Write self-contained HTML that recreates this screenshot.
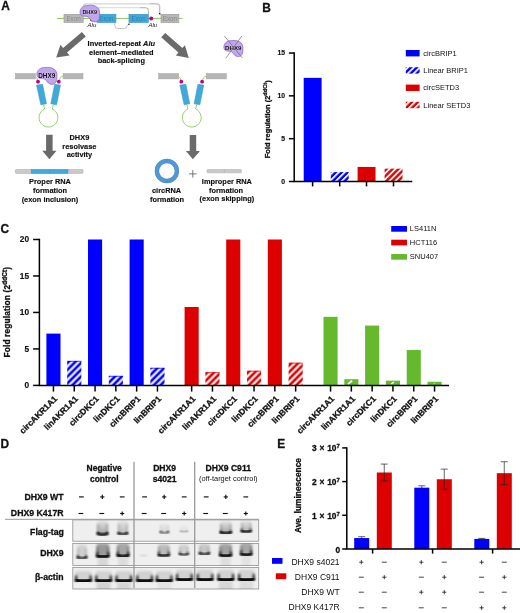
<!DOCTYPE html>
<html lang="en"><head><meta charset="utf-8"><title>Figure</title>
<style>html,body{margin:0;padding:0;background:#fff;}body{width:520px;height:613px;overflow:hidden;}svg{display:block;}text{font-family:"Liberation Sans", "DejaVu Sans", sans-serif;fill:#111;}.b{stroke:#111;stroke-width:0.3px;}.a{stroke:#111;stroke-width:0.15px;}</style>
</head><body>
<svg width="520" height="613" viewBox="0 0 520 613">
<defs>
<pattern id="hb" width="4.2" height="4.2" patternUnits="userSpaceOnUse" patternTransform="rotate(-45)"><rect width="4.2" height="4.2" fill="#fff"/><rect y="1.03" width="4.2" height="2.4" fill="#0000ff"/></pattern>
<pattern id="hbc" width="4.8" height="4.8" patternUnits="userSpaceOnUse" patternTransform="rotate(-45)"><rect width="4.8" height="4.8" fill="#fff"/><rect y="0.6" width="4.8" height="2.65" fill="#0000ff"/></pattern>
<pattern id="hr" width="4.2" height="4.2" patternUnits="userSpaceOnUse" patternTransform="rotate(-45)"><rect width="4.2" height="4.2" fill="#fff"/><rect y="1.03" width="4.2" height="2.4" fill="#dc0000"/></pattern>
<pattern id="hrc" width="4.8" height="4.8" patternUnits="userSpaceOnUse" patternTransform="rotate(-45)"><rect width="4.8" height="4.8" fill="#fff"/><rect y="0.6" width="4.8" height="2.65" fill="#dc0000"/></pattern>
<pattern id="hg" width="4.2" height="4.2" patternUnits="userSpaceOnUse" patternTransform="rotate(-45)"><rect width="4.2" height="4.2" fill="#fff"/><rect y="1.03" width="4.2" height="2.4" fill="#66b92d"/></pattern>
<pattern id="hgc" width="4.8" height="4.8" patternUnits="userSpaceOnUse" patternTransform="rotate(-45)"><rect width="4.8" height="4.8" fill="#fff"/><rect y="0.6" width="4.8" height="2.65" fill="#66b92d"/></pattern>
<filter id="bl1" x="-50%" y="-100%" width="200%" height="300%"><feGaussianBlur stdDeviation="0.9"/></filter>
<filter id="bl2" x="-50%" y="-100%" width="200%" height="300%"><feGaussianBlur stdDeviation="1.6"/></filter>
<linearGradient id="sg" x1="0" y1="0" x2="0" y2="1"><stop offset="0" stop-color="#000" stop-opacity="0.15"/><stop offset="1" stop-color="#000" stop-opacity="1"/></linearGradient>
<clipPath id="cp1"><rect x="73" y="520" width="186" height="21"/></clipPath>
<clipPath id="cp2"><rect x="73" y="543.5" width="186" height="22"/></clipPath>
<clipPath id="cp3"><rect x="73" y="567.5" width="186" height="21.5"/></clipPath>
</defs>
<rect width="520" height="613" fill="#fff"/>
<text x="1.3" y="10.2" font-size="11.9" font-weight="bold" text-anchor="start" class="b">A</text>
<text x="262.2" y="11.6" font-size="11.9" font-weight="bold" text-anchor="start" class="b">B</text>
<text x="0.6" y="232.8" font-size="11.9" font-weight="bold" text-anchor="start" class="b">C</text>
<text x="0.6" y="448" font-size="11.9" font-weight="bold" text-anchor="start" class="b">D</text>
<text x="277.2" y="448" font-size="11.9" font-weight="bold" text-anchor="start" class="b">E</text>
<g id="panelA">
<line x1="57" y1="18.4" x2="182.6" y2="18.4" stroke="#7dc242" stroke-width="0.9"/>
<path d="M83.2 14 V6.4 Q83.2 3.8 86 3.8 H156.8 Q159.7 3.8 159.7 6.8 V13" fill="none" stroke="#d6d6d6" stroke-width="1.2"/>
<path d="M150 3.8 H156.8 Q159.7 3.8 159.7 6.8 V13" fill="none" stroke="#b0b0b0" stroke-width="0.7"/>
<path d="M97 7.7 H145.6 Q148.4 7.7 148.4 10.6 V14" fill="none" stroke="#c6c6c6" stroke-width="0.7"/>
<path d="M140 7.7 H145.6 Q148.4 7.7 148.4 10.6 V14" fill="none" stroke="#a8a8a8" stroke-width="0.7"/>
<path d="M114.8 22.6 V25.6 Q114.8 28.5 117.8 28.5 H124.2 Q127.2 28.5 127.2 25.6 V24.8" fill="none" stroke="#a8a8a8" stroke-width="0.7"/>
<rect x="64" y="14.4" width="19.2" height="8" fill="#b7b7b7" stroke="#9c9c9c" stroke-width="0.7"/>
<text x="73.6" y="20.599999999999998" font-size="6.3" text-anchor="middle" style="fill:#8a8a8a">Exon</text>
<rect x="97" y="14.4" width="18.9" height="8" fill="#41a9d9" stroke="#3596c6" stroke-width="0.7"/>
<text x="106.45" y="20.599999999999998" font-size="6.3" text-anchor="middle" style="fill:#2f83ad">Exon</text>
<rect x="129" y="14.4" width="19.3" height="8" fill="#41a9d9" stroke="#3596c6" stroke-width="0.7"/>
<text x="138.65" y="20.599999999999998" font-size="6.3" text-anchor="middle" style="fill:#2f83ad">Exon</text>
<rect x="161" y="14.4" width="17.8" height="8" fill="#b7b7b7" stroke="#9c9c9c" stroke-width="0.7"/>
<text x="169.9" y="20.599999999999998" font-size="6.3" text-anchor="middle" style="fill:#8a8a8a">Exon</text>
<circle cx="151.2" cy="18.5" r="2" fill="#c2007b"/>
<circle cx="92" cy="19.6" r="2" fill="#c2007b"/>
<rect x="128.2" y="23.6" width="1.4" height="1.4" fill="#222"/>
<rect x="159" y="13" width="1.4" height="1.4" fill="#222"/>
<g transform="translate(89.9 13.5) scale(0.98)">
<path d="M-10 -1.2 C-10.2 -5.6 -6.2 -8.6 -1.6 -8.3 C1.4 -8.6 4.4 -8.4 6.6 -7 C9.4 -5.4 10.2 -2.6 10 0.6 C10 4.6 9.4 8.4 5.2 8.5 C1.8 8.6 0.6 6.2 -0.8 4.4 C-2 2.8 -3.6 3 -5.6 2.8 C-8.4 2.6 -10 1.2 -10 -1.2 Z" fill="#c0a5ea" stroke="#8c6cc8" stroke-width="0.8"/>
<text x="-0.2" y="0.3" font-size="5.6" font-weight="bold" text-anchor="middle" style="fill:#0c0c0c;stroke:#dccdf4;stroke-width:0.55;paint-order:stroke">DHX9</text>
</g>
<text x="87.6" y="27.3" font-size="6" font-weight="normal" text-anchor="start" font-style="italic">Alu</text>
<text x="148.4" y="27.3" font-size="6" font-weight="normal" text-anchor="start" font-style="italic">Alu</text>
<polygon points="81.9,32.0 63.1,47.9 60.5,44.8 56.2,57.6 69.6,55.5 67.0,52.4 85.8,36.5" fill="#6a6a6a"/>
<polygon points="161.2,37.3 178.4,52.6 175.8,55.5 188.8,57.9 184.9,45.3 182.4,48.1 165.2,32.9" fill="#6a6a6a"/>
<polygon points="46.1,134.7 46.1,150.7 42.3,150.7 49.4,159.3 56.5,150.7 52.6,150.7 52.6,134.7" fill="#6a6a6a"/>
<polygon points="189.7,134.9 189.7,150.9 185.9,150.9 192.9,159.3 199.9,150.9 196.2,150.9 196.2,134.9" fill="#6a6a6a"/>
<text class="a" font-size="7.4" font-weight="bold" text-anchor="middle"><tspan x="121.3" y="45.5">Inverted-repeat <tspan font-style="italic">Alu</tspan></tspan><tspan x="121.3" y="54.5">element–mediated</tspan><tspan x="121.3" y="63.3">back-splicing</tspan></text>
<g transform="translate(233.4 48.5) scale(0.95)">
<path d="M-10 -1.2 C-10.2 -5.6 -6.2 -8.6 -1.6 -8.3 C1.4 -8.6 4.4 -8.4 6.6 -7 C9.4 -5.4 10.2 -2.6 10 0.6 C10 4.6 9.4 8.4 5.2 8.5 C1.8 8.6 0.6 6.2 -0.8 4.4 C-2 2.8 -3.6 3 -5.6 2.8 C-8.4 2.6 -10 1.2 -10 -1.2 Z" fill="#c0a5ea" stroke="#8c6cc8" stroke-width="0.8"/>
<text x="-0.2" y="1.4" font-size="6.5" font-weight="bold" text-anchor="middle" style="fill:#0c0c0c;stroke:#dccdf4;stroke-width:0.55;paint-order:stroke">DHX9</text>
</g>
<line x1="224.4" y1="36" x2="242.4" y2="58" stroke="#6e6e6e" stroke-width="0.7"/>
<line x1="241.8" y1="36" x2="225.8" y2="58.3" stroke="#6e6e6e" stroke-width="0.7"/>
<rect x="15.4" y="73.6" width="19.9" height="5.3" fill="#b5b5b5" stroke="#a2a2a2" stroke-width="0.5"/>
<rect x="63.1" y="73.6" width="19.9" height="5.3" fill="#b5b5b5" stroke="#a2a2a2" stroke-width="0.5"/>
<path d="M35.4 76.6 Q37.4 77.4 38.0 81.7" fill="none" stroke="#7dc242" stroke-width="0.8"/>
<path d="M63.1 76.2 Q59.8 76.6 58.8 81.7" fill="none" stroke="#7dc242" stroke-width="0.8"/>
<polygon points="36.5,85.1 42.6,84.3 46.5,103.8 40.8,104.8" fill="#41a9d9" stroke="#3596c6" stroke-width="0.5"/>
<polygon points="60.5,85.1 54.6,84.3 50.8,103.8 56.6,104.8" fill="#41a9d9" stroke="#3596c6" stroke-width="0.5"/>
<path d="M43.5 104.4 L44.6 109 A9.4 9.4 0 1 0 52.3 109 L53.5 104.4" fill="none" stroke="#7dc242" stroke-width="0.8"/>
<circle cx="38.0" cy="81.7" r="1.9" fill="#c2007b"/>
<circle cx="58.8" cy="81.7" r="1.9" fill="#c2007b"/>
<g transform="translate(46.9 75.8) scale(1.0)">
<path d="M-10 -1.2 C-10.2 -5.6 -6.2 -8.6 -1.6 -8.3 C1.4 -8.6 4.4 -8.4 6.6 -7 C9.4 -5.4 10.2 -2.6 10 0.6 C10 4.6 9.4 8.4 5.2 8.5 C1.8 8.6 0.6 6.2 -0.8 4.4 C-2 2.8 -3.6 3 -5.6 2.8 C-8.4 2.6 -10 1.2 -10 -1.2 Z" fill="#c0a5ea" stroke="#8c6cc8" stroke-width="0.8"/>
<text x="-0.2" y="1.7" font-size="6.4" font-weight="bold" text-anchor="middle" style="fill:#0c0c0c;stroke:#dccdf4;stroke-width:0.55;paint-order:stroke">DHX9</text>
</g>
<rect x="158.7" y="73.6" width="19.9" height="5.3" fill="#b5b5b5" stroke="#a2a2a2" stroke-width="0.5"/>
<rect x="206.4" y="73.6" width="19.9" height="5.3" fill="#b5b5b5" stroke="#a2a2a2" stroke-width="0.5"/>
<path d="M178.7 76.6 Q180.7 77.4 181.3 81.7" fill="none" stroke="#7dc242" stroke-width="0.8"/>
<path d="M206.4 76.2 Q203.1 76.6 202.1 81.7" fill="none" stroke="#7dc242" stroke-width="0.8"/>
<polygon points="179.8,85.1 185.9,84.3 189.8,103.8 184.1,104.8" fill="#41a9d9" stroke="#3596c6" stroke-width="0.5"/>
<polygon points="203.8,85.1 197.9,84.3 194.1,103.8 199.9,104.8" fill="#41a9d9" stroke="#3596c6" stroke-width="0.5"/>
<path d="M186.8 104.4 L187.9 109 A9.4 9.4 0 1 0 195.6 109 L196.8 104.4" fill="none" stroke="#7dc242" stroke-width="0.8"/>
<circle cx="181.3" cy="81.7" r="1.9" fill="#c2007b"/>
<circle cx="202.1" cy="81.7" r="1.9" fill="#c2007b"/>
<text class="a" font-size="7.4" font-weight="bold" text-anchor="middle"><tspan x="79.4" y="139.5">DHX9</tspan><tspan x="79.4" y="148.8">resolvase</tspan><tspan x="79.4" y="156.8">activity</tspan></text>
<rect x="15.4" y="169.5" width="67.6" height="3.9" rx="0.8" fill="#cacaca" stroke="#a6a6a6" stroke-width="0.5"/>
<rect x="31.2" y="169.5" width="36.8" height="3.9" fill="#41a9d9" stroke="#3596c6" stroke-width="0.4"/>
<line x1="49.6" y1="169.5" x2="49.6" y2="173.4" stroke="#3596c6" stroke-width="0.4"/>
<text class="a" font-size="7.4" font-weight="bold" text-anchor="middle"><tspan x="50" y="183.8">Proper RNA</tspan><tspan x="50" y="192.8">formation</tspan><tspan x="50" y="201.7">(exon inclusion)</tspan></text>
<circle cx="166.9" cy="171" r="10" fill="none" stroke="#5b8f8f" stroke-width="4.4"/>
<circle cx="166.9" cy="171" r="10" fill="none" stroke="#4f97dd" stroke-width="3.6"/>
<path d="M166.9 159.2 V162.8 M166.9 179.2 V182.8" stroke="#3f7fc0" stroke-width="0.5" fill="none"/>
<text class="a" font-size="7.4" font-weight="bold" text-anchor="middle"><tspan x="166.6" y="193.3">circRNA</tspan><tspan x="167" y="202.3">formation</tspan></text>
<path d="M189 173.9 H196.6 M192.8 170.1 V177.7" stroke="#6a6a6a" stroke-width="0.9" fill="none"/>
<rect x="207" y="169.6" width="34.5" height="3.2" rx="0.8" fill="#cacaca" stroke="#a6a6a6" stroke-width="0.5"/>
<line x1="224.3" y1="169.6" x2="224.3" y2="172.8" stroke="#a0a0a0" stroke-width="0.4"/>
<text class="a" font-size="7.4" font-weight="bold" text-anchor="middle"><tspan x="226.9" y="184">Improper RNA</tspan><tspan x="226" y="192.6">formation</tspan><tspan x="226.9" y="201.4">(exon skipping)</tspan></text>
</g>
<g id="panelB">
<rect x="303.7" y="77.86" width="17.9" height="103.64" fill="#0000ff"/>
<line x1="312.59999999999997" y1="181.5" x2="312.59999999999997" y2="186.4" stroke="#000" stroke-width="1.5"/>
<rect x="330.8" y="172.08" width="17.9" height="9.42" fill="url(#hb)"/>
<line x1="339.7" y1="181.5" x2="339.7" y2="186.4" stroke="#000" stroke-width="1.5"/>
<rect x="357.6" y="166.94" width="17.9" height="14.56" fill="#dc0000"/>
<line x1="366.5" y1="181.5" x2="366.5" y2="186.4" stroke="#000" stroke-width="1.5"/>
<rect x="384.6" y="168.65" width="17.9" height="12.85" fill="url(#hr)"/>
<line x1="393.5" y1="181.5" x2="393.5" y2="186.4" stroke="#000" stroke-width="1.5"/>
<path d="M294.2 52.2 V181.5 H412.3" fill="none" stroke="#000" stroke-width="1.5"/>
<line x1="288.9" y1="181.50" x2="294.2" y2="181.50" stroke="#000" stroke-width="1.5"/>
<text x="285" y="183.90" font-size="6.8" font-weight="bold" text-anchor="end" class="a">0</text>
<line x1="288.9" y1="138.68" x2="294.2" y2="138.68" stroke="#000" stroke-width="1.5"/>
<text x="285" y="141.08" font-size="6.8" font-weight="bold" text-anchor="end" class="a">5</text>
<line x1="288.9" y1="95.85" x2="294.2" y2="95.85" stroke="#000" stroke-width="1.5"/>
<text x="285" y="98.25" font-size="6.8" font-weight="bold" text-anchor="end" class="a">10</text>
<line x1="288.9" y1="53.03" x2="294.2" y2="53.03" stroke="#000" stroke-width="1.5"/>
<text x="285" y="55.43" font-size="6.8" font-weight="bold" text-anchor="end" class="a">15</text>
<text class="b" transform="translate(269.7 158.2) rotate(-90)" font-size="7.4" font-weight="bold" letter-spacing="0.03">Fold regulation (2<tspan font-size="5.6" dy="-2.6">ddCt</tspan><tspan dy="2.6">)</tspan></text>
<rect x="405.8" y="50" width="13.8" height="6.4" fill="#0000ff"/>
<text x="423.3" y="55.8" font-size="7.5" font-weight="normal" text-anchor="start" >circBRIP1</text>
<rect x="405.8" y="67.2" width="13.8" height="6.4" fill="url(#hb)"/>
<text x="423.3" y="73.0" font-size="7.5" font-weight="normal" text-anchor="start" >Linear BRIP1</text>
<rect x="405.8" y="84.6" width="13.8" height="6.4" fill="#dc0000"/>
<text x="423.3" y="90.39999999999999" font-size="7.5" font-weight="normal" text-anchor="start" >circSETD3</text>
<rect x="405.8" y="101.8" width="13.8" height="6.4" fill="url(#hr)"/>
<text x="423.3" y="107.6" font-size="7.5" font-weight="normal" text-anchor="start" >Linear SETD3</text>
</g>
<g id="panelC">
<rect x="46.40" y="333.61" width="14.1" height="51.79" fill="#0000ff"/>
<line x1="53.45" y1="385.4" x2="53.45" y2="391.6" stroke="#000" stroke-width="1.5"/>
<text class="b" transform="translate(57.85 399.4) rotate(-45)" font-size="8.5" font-weight="bold" text-anchor="end">circAKR1A1</text>
<rect x="67.20" y="360.96" width="14.1" height="24.44" fill="url(#hbc)"/>
<line x1="67.20" y1="361.31" x2="81.30" y2="361.31" stroke="#0000ff" stroke-width="0.7"/>
<line x1="74.25" y1="385.4" x2="74.25" y2="391.6" stroke="#000" stroke-width="1.5"/>
<text class="b" transform="translate(78.65 399.4) rotate(-45)" font-size="8.5" font-weight="bold" text-anchor="end">linAKR1A1</text>
<rect x="88.00" y="239.50" width="14.1" height="145.90" fill="#0000ff"/>
<line x1="95.05" y1="385.4" x2="95.05" y2="391.6" stroke="#000" stroke-width="1.5"/>
<text class="b" transform="translate(99.45 399.4) rotate(-45)" font-size="8.5" font-weight="bold" text-anchor="end">circDKC1</text>
<rect x="108.80" y="375.92" width="14.1" height="9.48" fill="url(#hbc)"/>
<line x1="108.80" y1="376.27" x2="122.90" y2="376.27" stroke="#0000ff" stroke-width="0.7"/>
<line x1="115.85" y1="385.4" x2="115.85" y2="391.6" stroke="#000" stroke-width="1.5"/>
<text class="b" transform="translate(120.25 399.4) rotate(-45)" font-size="8.5" font-weight="bold" text-anchor="end">linDKC1</text>
<rect x="129.60" y="239.50" width="14.1" height="145.90" fill="#0000ff"/>
<line x1="136.65" y1="385.4" x2="136.65" y2="391.6" stroke="#000" stroke-width="1.5"/>
<text class="b" transform="translate(141.05 399.4) rotate(-45)" font-size="8.5" font-weight="bold" text-anchor="end">circBRIP1</text>
<rect x="150.40" y="367.89" width="14.1" height="17.51" fill="url(#hbc)"/>
<line x1="150.40" y1="368.24" x2="164.50" y2="368.24" stroke="#0000ff" stroke-width="0.7"/>
<line x1="157.45" y1="385.4" x2="157.45" y2="391.6" stroke="#000" stroke-width="1.5"/>
<text class="b" transform="translate(161.85 399.4) rotate(-45)" font-size="8.5" font-weight="bold" text-anchor="end">linBRIP1</text>
<rect x="184.60" y="306.98" width="14.1" height="78.42" fill="#dc0000"/>
<line x1="191.65" y1="385.4" x2="191.65" y2="391.6" stroke="#000" stroke-width="1.5"/>
<text class="b" transform="translate(196.05 399.4) rotate(-45)" font-size="8.5" font-weight="bold" text-anchor="end">circAKR1A1</text>
<rect x="205.40" y="372.27" width="14.1" height="13.13" fill="url(#hrc)"/>
<line x1="205.40" y1="372.62" x2="219.50" y2="372.62" stroke="#dc0000" stroke-width="0.7"/>
<line x1="212.45" y1="385.4" x2="212.45" y2="391.6" stroke="#000" stroke-width="1.5"/>
<text class="b" transform="translate(216.85 399.4) rotate(-45)" font-size="8.5" font-weight="bold" text-anchor="end">linAKR1A1</text>
<rect x="226.20" y="239.50" width="14.1" height="145.90" fill="#dc0000"/>
<line x1="233.25" y1="385.4" x2="233.25" y2="391.6" stroke="#000" stroke-width="1.5"/>
<text class="b" transform="translate(237.65 399.4) rotate(-45)" font-size="8.5" font-weight="bold" text-anchor="end">circDKC1</text>
<rect x="247.00" y="370.81" width="14.1" height="14.59" fill="url(#hrc)"/>
<line x1="247.00" y1="371.16" x2="261.10" y2="371.16" stroke="#dc0000" stroke-width="0.7"/>
<line x1="254.05" y1="385.4" x2="254.05" y2="391.6" stroke="#000" stroke-width="1.5"/>
<text class="b" transform="translate(258.45 399.4) rotate(-45)" font-size="8.5" font-weight="bold" text-anchor="end">linDKC1</text>
<rect x="267.80" y="239.50" width="14.1" height="145.90" fill="#dc0000"/>
<line x1="274.85" y1="385.4" x2="274.85" y2="391.6" stroke="#000" stroke-width="1.5"/>
<text class="b" transform="translate(279.25 399.4) rotate(-45)" font-size="8.5" font-weight="bold" text-anchor="end">circBRIP1</text>
<rect x="288.60" y="362.79" width="14.1" height="22.61" fill="url(#hrc)"/>
<line x1="288.60" y1="363.14" x2="302.70" y2="363.14" stroke="#dc0000" stroke-width="0.7"/>
<line x1="295.65" y1="385.4" x2="295.65" y2="391.6" stroke="#000" stroke-width="1.5"/>
<text class="b" transform="translate(300.05 399.4) rotate(-45)" font-size="8.5" font-weight="bold" text-anchor="end">linBRIP1</text>
<rect x="323.50" y="316.83" width="14.1" height="68.57" fill="#66b92d"/>
<line x1="330.55" y1="385.4" x2="330.55" y2="391.6" stroke="#000" stroke-width="1.5"/>
<text class="b" transform="translate(334.95 399.4) rotate(-45)" font-size="8.5" font-weight="bold" text-anchor="end">circAKR1A1</text>
<rect x="344.30" y="379.20" width="14.1" height="6.20" fill="#66b92d"/>
<line x1="347.90" y1="384.00" x2="352.10" y2="380.80" stroke="#fff" stroke-width="1.7"/>
<line x1="351.35" y1="385.4" x2="351.35" y2="391.6" stroke="#000" stroke-width="1.5"/>
<text class="b" transform="translate(355.75 399.4) rotate(-45)" font-size="8.5" font-weight="bold" text-anchor="end">linAKR1A1</text>
<rect x="365.10" y="325.58" width="14.1" height="59.82" fill="#66b92d"/>
<line x1="372.15" y1="385.4" x2="372.15" y2="391.6" stroke="#000" stroke-width="1.5"/>
<text class="b" transform="translate(376.55 399.4) rotate(-45)" font-size="8.5" font-weight="bold" text-anchor="end">circDKC1</text>
<rect x="385.90" y="380.66" width="14.1" height="4.74" fill="#66b92d"/>
<line x1="391.10" y1="383.90" x2="393.90" y2="382.10" stroke="#fff" stroke-width="1.3"/>
<line x1="392.95" y1="385.4" x2="392.95" y2="391.6" stroke="#000" stroke-width="1.5"/>
<text class="b" transform="translate(397.35 399.4) rotate(-45)" font-size="8.5" font-weight="bold" text-anchor="end">linDKC1</text>
<rect x="406.70" y="350.02" width="14.1" height="35.38" fill="#66b92d"/>
<line x1="413.75" y1="385.4" x2="413.75" y2="391.6" stroke="#000" stroke-width="1.5"/>
<text class="b" transform="translate(418.15 399.4) rotate(-45)" font-size="8.5" font-weight="bold" text-anchor="end">circBRIP1</text>
<rect x="427.50" y="381.75" width="14.1" height="3.65" fill="#66b92d"/>
<line x1="433.50" y1="384.00" x2="435.10" y2="383.00" stroke="#fff" stroke-width="0.8" opacity="0.7"/>
<line x1="434.55" y1="385.4" x2="434.55" y2="391.6" stroke="#000" stroke-width="1.5"/>
<text class="b" transform="translate(438.95 399.4) rotate(-45)" font-size="8.5" font-weight="bold" text-anchor="end">linBRIP1</text>
<path d="M39.4 238.8 V385.4 H449" fill="none" stroke="#000" stroke-width="1.5"/>
<line x1="33.1" y1="385.40" x2="39.4" y2="385.40" stroke="#000" stroke-width="1.5"/>
<text x="29.1" y="388.30" font-size="8.3" font-weight="bold" text-anchor="end" class="a">0</text>
<line x1="33.1" y1="348.92" x2="39.4" y2="348.92" stroke="#000" stroke-width="1.5"/>
<text x="29.1" y="351.82" font-size="8.3" font-weight="bold" text-anchor="end" class="a">5</text>
<line x1="33.1" y1="312.45" x2="39.4" y2="312.45" stroke="#000" stroke-width="1.5"/>
<text x="29.1" y="315.35" font-size="8.3" font-weight="bold" text-anchor="end" class="a">10</text>
<line x1="33.1" y1="275.97" x2="39.4" y2="275.97" stroke="#000" stroke-width="1.5"/>
<text x="29.1" y="278.87" font-size="8.3" font-weight="bold" text-anchor="end" class="a">15</text>
<line x1="33.1" y1="239.50" x2="39.4" y2="239.50" stroke="#000" stroke-width="1.5"/>
<text x="29.1" y="242.40" font-size="8.3" font-weight="bold" text-anchor="end" class="a">20</text>
<text class="b" transform="translate(10.3 357.6) rotate(-90)" font-size="8.4" font-weight="bold" letter-spacing="0.14">Fold regulation (2<tspan font-size="6.4" dy="-3">ddCt</tspan><tspan dy="3">)</tspan></text>
<rect x="391.2" y="226" width="15.8" height="5.7" fill="#0000ff"/>
<text x="409.8" y="231.4" font-size="7.5" font-weight="normal" text-anchor="start" >LS411N</text>
<rect x="391.2" y="239.7" width="15.8" height="5.7" fill="#dc0000"/>
<text x="409.8" y="245.1" font-size="7.5" font-weight="normal" text-anchor="start" >HCT116</text>
<rect x="391.2" y="254" width="15.8" height="5.7" fill="#66b92d"/>
<text x="409.8" y="259.4" font-size="7.5" font-weight="normal" text-anchor="start" >SNU407</text>
</g>
<g id="panelD">
<text class="b" font-size="8.45" font-weight="bold" text-anchor="middle"><tspan x="104.2" y="471.4">Negative</tspan><tspan x="104.3" y="481.5">control</tspan></text>
<text class="b" font-size="8.6" font-weight="bold" text-anchor="middle"><tspan x="164.6" y="471.4">DHX9</tspan><tspan x="164.6" y="481.5">s4021</tspan></text>
<text class="b" font-size="8.6" font-weight="bold" text-anchor="middle" x="228.3" y="471.4">DHX9 C911</text>
<text font-size="7.4" text-anchor="middle" x="228.3" y="480.7">(off-target control)</text>
<text x="63.5" y="499.6" font-size="8.7" font-weight="bold" text-anchor="end" class="b">DHX9 WT</text>
<text x="63.5" y="515.6" font-size="8.7" font-weight="bold" text-anchor="end" class="b">DHX9 K417R</text>
<text x="63.9" y="535.2" font-size="8.7" font-weight="bold" text-anchor="end" class="b">Flag-tag</text>
<text x="63.5" y="555.5" font-size="8.7" font-weight="bold" text-anchor="end" class="b">DHX9</text>
<text x="63.5" y="580.4" font-size="8.7" font-weight="bold" text-anchor="end" class="b">β-actin</text>
<line x1="79.0" y1="496.9" x2="83.80000000000001" y2="496.9" stroke="#111" stroke-width="1.15"/>
<line x1="78.5" y1="513.5" x2="83.30000000000001" y2="513.5" stroke="#111" stroke-width="1.15"/>
<line x1="100.2" y1="496.9" x2="104.39999999999999" y2="496.9" stroke="#111" stroke-width="1.15"/>
<line x1="102.3" y1="494.79999999999995" x2="102.3" y2="499.0" stroke="#111" stroke-width="1.15"/>
<line x1="99.39999999999999" y1="513.5" x2="104.2" y2="513.5" stroke="#111" stroke-width="1.15"/>
<line x1="119.8" y1="496.9" x2="124.60000000000001" y2="496.9" stroke="#111" stroke-width="1.15"/>
<line x1="120.10000000000001" y1="513.5" x2="124.3" y2="513.5" stroke="#111" stroke-width="1.15"/>
<line x1="122.2" y1="511.4" x2="122.2" y2="515.6" stroke="#111" stroke-width="1.15"/>
<line x1="142.2" y1="496.9" x2="147.0" y2="496.9" stroke="#111" stroke-width="1.15"/>
<line x1="141.7" y1="513.5" x2="146.5" y2="513.5" stroke="#111" stroke-width="1.15"/>
<line x1="162.1" y1="496.9" x2="166.29999999999998" y2="496.9" stroke="#111" stroke-width="1.15"/>
<line x1="164.2" y1="494.79999999999995" x2="164.2" y2="499.0" stroke="#111" stroke-width="1.15"/>
<line x1="161.29999999999998" y1="513.5" x2="166.1" y2="513.5" stroke="#111" stroke-width="1.15"/>
<line x1="181.79999999999998" y1="496.9" x2="186.6" y2="496.9" stroke="#111" stroke-width="1.15"/>
<line x1="182.1" y1="513.5" x2="186.29999999999998" y2="513.5" stroke="#111" stroke-width="1.15"/>
<line x1="184.2" y1="511.4" x2="184.2" y2="515.6" stroke="#111" stroke-width="1.15"/>
<line x1="203.79999999999998" y1="496.9" x2="208.6" y2="496.9" stroke="#111" stroke-width="1.15"/>
<line x1="203.29999999999998" y1="513.5" x2="208.1" y2="513.5" stroke="#111" stroke-width="1.15"/>
<line x1="223.70000000000002" y1="496.9" x2="227.9" y2="496.9" stroke="#111" stroke-width="1.15"/>
<line x1="225.8" y1="494.79999999999995" x2="225.8" y2="499.0" stroke="#111" stroke-width="1.15"/>
<line x1="222.9" y1="513.5" x2="227.70000000000002" y2="513.5" stroke="#111" stroke-width="1.15"/>
<line x1="243.4" y1="496.9" x2="248.20000000000002" y2="496.9" stroke="#111" stroke-width="1.15"/>
<line x1="243.70000000000002" y1="513.5" x2="247.9" y2="513.5" stroke="#111" stroke-width="1.15"/>
<line x1="245.8" y1="511.4" x2="245.8" y2="515.6" stroke="#111" stroke-width="1.15"/>
<rect x="72.8" y="519.9" width="185.9" height="21.3" fill="#efefef" stroke="#909090" stroke-width="0.8"/>
<rect x="72.8" y="543.6" width="185.9" height="21.8" fill="#efefef" stroke="#909090" stroke-width="0.8"/>
<rect x="72.8" y="567.4" width="185.9" height="21.6" fill="#efefef" stroke="#909090" stroke-width="0.8"/>
<g clip-path="url(#cp1)">
<rect x="97.6" y="520.2" width="9.9" height="14.0" fill="url(#sg)" opacity="0.30" filter="url(#bl2)"/>
<path d="M98.0 523.7 V534.2 M107.1 523.7 V534.2" stroke="#000" stroke-width="2" opacity="0.22" fill="none" filter="url(#bl1)"/>
<path d="M98.2 533.7 L100.2 534.5 L104.9 534.5 L106.9 533.7" fill="none" stroke="#000" stroke-width="2.8" stroke-linecap="round" stroke-linejoin="round" opacity="0.95" filter="url(#bl1)"/>
<path d="M97.9 533.7 V532.6 M107.2 533.7 V532.6" fill="none" stroke="#000" stroke-width="2" stroke-linecap="round" opacity="0.81" filter="url(#bl1)"/>
</g>
<g clip-path="url(#cp1)">
<rect x="118.3" y="520.0" width="8.9" height="14.0" fill="url(#sg)" opacity="0.22" filter="url(#bl2)"/>
<path d="M118.8 523.5 V534.0 M126.9 523.5 V534.0" stroke="#000" stroke-width="2" opacity="0.17" fill="none" filter="url(#bl1)"/>
<path d="M118.8 533.5 L120.8 534.2 L124.8 534.2 L126.8 533.5" fill="none" stroke="#000" stroke-width="2.4" stroke-linecap="round" stroke-linejoin="round" opacity="0.88" filter="url(#bl1)"/>
<path d="M118.6 533.5 V532.6 M127.0 533.5 V532.6" fill="none" stroke="#000" stroke-width="2" stroke-linecap="round" opacity="0.75" filter="url(#bl1)"/>
</g>
<g clip-path="url(#cp1)">
<rect x="160.5" y="522.6" width="7.9" height="10.0" fill="url(#sg)" opacity="0.09" filter="url(#bl2)"/>
<path d="M160.8 525.1 V532.6 M168.0 525.1 V532.6" stroke="#000" stroke-width="2" opacity="0.07" fill="none" filter="url(#bl1)"/>
<path d="M160.6 532.1 L162.6 532.9 L166.2 532.9 L168.2 532.1" fill="none" stroke="#000" stroke-width="1.9" stroke-linecap="round" stroke-linejoin="round" opacity="0.60" filter="url(#bl1)"/>
<path d="M160.8 532.1 V531.1 M168.1 532.1 V531.1" fill="none" stroke="#000" stroke-width="2" stroke-linecap="round" opacity="0.51" filter="url(#bl1)"/>
</g>
<g clip-path="url(#cp1)">
<rect x="180.8" y="523.8" width="6.4" height="8.0" fill="url(#sg)" opacity="0.04" filter="url(#bl2)"/>
<path d="M181.2 525.8 V531.8 M186.8 525.8 V531.8" stroke="#000" stroke-width="2" opacity="0.03" fill="none" filter="url(#bl1)"/>
<path d="M180.7 531.3 L182.7 532.0 L185.3 532.0 L187.3 531.3" fill="none" stroke="#000" stroke-width="1.4" stroke-linecap="round" stroke-linejoin="round" opacity="0.30" filter="url(#bl1)"/>
<path d="M181.1 531.3 V531.0 M186.9 531.3 V531.0" fill="none" stroke="#000" stroke-width="2" stroke-linecap="round" opacity="0.26" filter="url(#bl1)"/>
</g>
<g clip-path="url(#cp1)">
<rect x="220.6" y="521.0" width="10.4" height="12.0" fill="url(#sg)" opacity="0.30" filter="url(#bl2)"/>
<path d="M221.0 524.0 V533.0 M230.6 524.0 V533.0" stroke="#000" stroke-width="2" opacity="0.22" fill="none" filter="url(#bl1)"/>
<path d="M221.3 532.5 L223.3 533.2 L228.3 533.2 L230.3 532.5" fill="none" stroke="#000" stroke-width="3.0" stroke-linecap="round" stroke-linejoin="round" opacity="0.96" filter="url(#bl1)"/>
<path d="M220.9 532.5 V531.2 M230.7 532.5 V531.2" fill="none" stroke="#000" stroke-width="2" stroke-linecap="round" opacity="0.82" filter="url(#bl1)"/>
</g>
<g clip-path="url(#cp1)">
<rect x="241.5" y="520.4" width="9.4" height="11.0" fill="url(#sg)" opacity="0.24" filter="url(#bl2)"/>
<path d="M241.9 523.1 V531.4 M250.5 523.1 V531.4" stroke="#000" stroke-width="2" opacity="0.18" fill="none" filter="url(#bl1)"/>
<path d="M242.1 530.9 L244.1 531.6 L248.3 531.6 L250.3 530.9" fill="none" stroke="#000" stroke-width="2.8" stroke-linecap="round" stroke-linejoin="round" opacity="0.94" filter="url(#bl1)"/>
<path d="M241.8 530.9 V529.4 M250.6 530.9 V529.4" fill="none" stroke="#000" stroke-width="2" stroke-linecap="round" opacity="0.80" filter="url(#bl1)"/>
</g>
<g clip-path="url(#cp2)">
<rect x="77.5" y="545.0" width="8.9" height="13.0" fill="#000" opacity="0.13" filter="url(#bl2)"/>
<path d="M78.0 548.2 V558.0 M86.0 548.2 V558.0" stroke="#000" stroke-width="2" opacity="0.14" fill="none" filter="url(#bl1)"/>
<path d="M78.0 557.5 L80.0 558.2 L84.0 558.2 L86.0 557.5" fill="none" stroke="#000" stroke-width="2.4" stroke-linecap="round" stroke-linejoin="round" opacity="0.85" filter="url(#bl1)"/>
<path d="M77.8 557.5 V556.0 M86.2 557.5 V556.0" fill="none" stroke="#000" stroke-width="2" stroke-linecap="round" opacity="0.72" filter="url(#bl1)"/>
</g>
<g clip-path="url(#cp2)">
<rect x="97.7" y="557.4" width="10.2" height="14" fill="#000" opacity="0.10" filter="url(#bl2)"/>
<rect x="97.0" y="543.4" width="11.6" height="13.0" fill="#000" opacity="0.36" filter="url(#bl2)"/>
<path d="M97.4 546.6 V556.4 M108.2 546.6 V556.4" stroke="#000" stroke-width="2" opacity="0.40" fill="none" filter="url(#bl1)"/>
<path d="M98.2 555.9 L100.2 556.6 L105.4 556.6 L107.4 555.9" fill="none" stroke="#000" stroke-width="4.0" stroke-linecap="round" stroke-linejoin="round" opacity="0.97" filter="url(#bl1)"/>
<path d="M97.3 555.9 V552.9 M108.3 555.9 V552.9" fill="none" stroke="#000" stroke-width="2" stroke-linecap="round" opacity="0.82" filter="url(#bl1)"/>
</g>
<g clip-path="url(#cp2)">
<rect x="118.2" y="557.0" width="9.6" height="14" fill="#000" opacity="0.08" filter="url(#bl2)"/>
<rect x="117.5" y="543.0" width="11.0" height="13.0" fill="#000" opacity="0.30" filter="url(#bl2)"/>
<path d="M117.9 546.2 V556.0 M128.1 546.2 V556.0" stroke="#000" stroke-width="2" opacity="0.33" fill="none" filter="url(#bl1)"/>
<path d="M118.5 555.5 L120.5 556.2 L125.5 556.2 L127.5 555.5" fill="none" stroke="#000" stroke-width="3.6" stroke-linecap="round" stroke-linejoin="round" opacity="0.95" filter="url(#bl1)"/>
<path d="M117.8 555.5 V552.8 M128.2 555.5 V552.8" fill="none" stroke="#000" stroke-width="2" stroke-linecap="round" opacity="0.81" filter="url(#bl1)"/>
</g>
<g clip-path="url(#cp2)">
<path d="M140.1 555.3 L142.1 556.0 L144.7 556.0 L146.7 555.3" fill="none" stroke="#000" stroke-width="1.4" stroke-linecap="round" stroke-linejoin="round" opacity="0.13" filter="url(#bl1)"/>
</g>
<g clip-path="url(#cp2)">
<rect x="158.6" y="544.4" width="10.4" height="11.0" fill="#000" opacity="0.22" filter="url(#bl2)"/>
<path d="M159.0 547.1 V555.4 M168.6 547.1 V555.4" stroke="#000" stroke-width="2" opacity="0.24" fill="none" filter="url(#bl1)"/>
<path d="M159.3 554.9 L161.3 555.6 L166.3 555.6 L168.3 554.9" fill="none" stroke="#000" stroke-width="3.0" stroke-linecap="round" stroke-linejoin="round" opacity="0.92" filter="url(#bl1)"/>
<path d="M158.9 554.9 V552.8 M168.7 554.9 V552.8" fill="none" stroke="#000" stroke-width="2" stroke-linecap="round" opacity="0.78" filter="url(#bl1)"/>
</g>
<g clip-path="url(#cp2)">
<rect x="179.6" y="544.4" width="8.4" height="10.0" fill="#000" opacity="0.13" filter="url(#bl2)"/>
<path d="M180.0 546.9 V554.4 M187.6 546.9 V554.4" stroke="#000" stroke-width="2" opacity="0.14" fill="none" filter="url(#bl1)"/>
<path d="M180.0 553.9 L182.0 554.6 L185.6 554.6 L187.6 553.9" fill="none" stroke="#000" stroke-width="2.4" stroke-linecap="round" stroke-linejoin="round" opacity="0.80" filter="url(#bl1)"/>
<path d="M179.9 553.9 V552.8 M187.7 553.9 V552.8" fill="none" stroke="#000" stroke-width="2" stroke-linecap="round" opacity="0.68" filter="url(#bl1)"/>
</g>
<g clip-path="url(#cp2)">
<rect x="199.7" y="544.0" width="9.4" height="10.0" fill="#000" opacity="0.16" filter="url(#bl2)"/>
<path d="M200.1 546.5 V554.0 M208.7 546.5 V554.0" stroke="#000" stroke-width="2" opacity="0.18" fill="none" filter="url(#bl1)"/>
<path d="M200.2 553.5 L202.2 554.2 L206.6 554.2 L208.6 553.5" fill="none" stroke="#000" stroke-width="2.6" stroke-linecap="round" stroke-linejoin="round" opacity="0.85" filter="url(#bl1)"/>
<path d="M200.0 553.5 V552.4 M208.8 553.5 V552.4" fill="none" stroke="#000" stroke-width="2" stroke-linecap="round" opacity="0.72" filter="url(#bl1)"/>
</g>
<g clip-path="url(#cp2)">
<rect x="220.7" y="556.6" width="9.8" height="14" fill="#000" opacity="0.07" filter="url(#bl2)"/>
<rect x="220.0" y="543.6" width="11.2" height="12.0" fill="#000" opacity="0.32" filter="url(#bl2)"/>
<path d="M220.4 546.6 V555.6 M230.8 546.6 V555.6" stroke="#000" stroke-width="2" opacity="0.35" fill="none" filter="url(#bl1)"/>
<path d="M221.1 555.1 L223.1 555.9 L228.1 555.9 L230.1 555.1" fill="none" stroke="#000" stroke-width="3.8" stroke-linecap="round" stroke-linejoin="round" opacity="0.96" filter="url(#bl1)"/>
<path d="M220.3 555.1 V552.4 M230.9 555.1 V552.4" fill="none" stroke="#000" stroke-width="2" stroke-linecap="round" opacity="0.82" filter="url(#bl1)"/>
</g>
<g clip-path="url(#cp2)">
<rect x="241.6" y="555.6" width="9.2" height="14" fill="#000" opacity="0.05" filter="url(#bl2)"/>
<rect x="240.9" y="542.6" width="10.6" height="12.0" fill="#000" opacity="0.30" filter="url(#bl2)"/>
<path d="M241.3 545.6 V554.6 M251.1 545.6 V554.6" stroke="#000" stroke-width="2" opacity="0.33" fill="none" filter="url(#bl1)"/>
<path d="M241.9 554.1 L243.9 554.9 L248.5 554.9 L250.5 554.1" fill="none" stroke="#000" stroke-width="3.6" stroke-linecap="round" stroke-linejoin="round" opacity="0.95" filter="url(#bl1)"/>
<path d="M241.2 554.1 V551.2 M251.2 554.1 V551.2" fill="none" stroke="#000" stroke-width="2" stroke-linecap="round" opacity="0.81" filter="url(#bl1)"/>
</g>
<g clip-path="url(#cp3)">
<rect x="75.8" y="571.0" width="15.2" height="10.0" fill="#000" opacity="0.12" filter="url(#bl2)"/>
<path d="M76.2 573.5 V581.0 M90.6 573.5 V581.0" stroke="#000" stroke-width="2" opacity="0.13" fill="none" filter="url(#bl1)"/>
<path d="M77.4 580.5 L79.4 581.2 L87.4 581.2 L89.4 580.5" fill="none" stroke="#000" stroke-width="4.8" stroke-linecap="round" stroke-linejoin="round" opacity="0.98" filter="url(#bl1)"/>
<path d="M76.1 580.5 V576.4 M90.7 580.5 V576.4" fill="none" stroke="#000" stroke-width="2" stroke-linecap="round" opacity="0.83" filter="url(#bl1)"/>
</g>
<g clip-path="url(#cp3)">
<rect x="96.7" y="582.0" width="13.8" height="14" fill="#000" opacity="0.13" filter="url(#bl2)"/>
<rect x="96.0" y="571.0" width="15.2" height="10.0" fill="#000" opacity="0.12" filter="url(#bl2)"/>
<path d="M96.4 573.5 V581.0 M110.8 573.5 V581.0" stroke="#000" stroke-width="2" opacity="0.13" fill="none" filter="url(#bl1)"/>
<path d="M97.6 580.5 L99.6 581.2 L107.6 581.2 L109.6 580.5" fill="none" stroke="#000" stroke-width="4.8" stroke-linecap="round" stroke-linejoin="round" opacity="0.98" filter="url(#bl1)"/>
<path d="M96.3 580.5 V576.4 M110.9 580.5 V576.4" fill="none" stroke="#000" stroke-width="2" stroke-linecap="round" opacity="0.83" filter="url(#bl1)"/>
</g>
<g clip-path="url(#cp3)">
<rect x="116.9" y="582.0" width="13.8" height="14" fill="#000" opacity="0.11" filter="url(#bl2)"/>
<rect x="116.2" y="571.0" width="15.2" height="10.0" fill="#000" opacity="0.12" filter="url(#bl2)"/>
<path d="M116.6 573.5 V581.0 M131.0 573.5 V581.0" stroke="#000" stroke-width="2" opacity="0.13" fill="none" filter="url(#bl1)"/>
<path d="M117.8 580.5 L119.8 581.2 L127.8 581.2 L129.8 580.5" fill="none" stroke="#000" stroke-width="4.8" stroke-linecap="round" stroke-linejoin="round" opacity="0.98" filter="url(#bl1)"/>
<path d="M116.5 580.5 V576.4 M131.1 580.5 V576.4" fill="none" stroke="#000" stroke-width="2" stroke-linecap="round" opacity="0.83" filter="url(#bl1)"/>
</g>
<g clip-path="url(#cp3)">
<rect x="137.0" y="571.0" width="15.2" height="10.0" fill="#000" opacity="0.12" filter="url(#bl2)"/>
<path d="M137.4 573.5 V581.0 M151.8 573.5 V581.0" stroke="#000" stroke-width="2" opacity="0.13" fill="none" filter="url(#bl1)"/>
<path d="M138.6 580.5 L140.6 581.2 L148.6 581.2 L150.6 580.5" fill="none" stroke="#000" stroke-width="4.8" stroke-linecap="round" stroke-linejoin="round" opacity="0.98" filter="url(#bl1)"/>
<path d="M137.3 580.5 V576.4 M151.9 580.5 V576.4" fill="none" stroke="#000" stroke-width="2" stroke-linecap="round" opacity="0.83" filter="url(#bl1)"/>
</g>
<g clip-path="url(#cp3)">
<rect x="157.3" y="582.0" width="13.8" height="14" fill="#000" opacity="0.05" filter="url(#bl2)"/>
<rect x="156.6" y="571.0" width="15.2" height="10.0" fill="#000" opacity="0.12" filter="url(#bl2)"/>
<path d="M157.0 573.5 V581.0 M171.4 573.5 V581.0" stroke="#000" stroke-width="2" opacity="0.13" fill="none" filter="url(#bl1)"/>
<path d="M158.2 580.5 L160.2 581.2 L168.2 581.2 L170.2 580.5" fill="none" stroke="#000" stroke-width="4.8" stroke-linecap="round" stroke-linejoin="round" opacity="0.98" filter="url(#bl1)"/>
<path d="M156.9 580.5 V576.4 M171.5 580.5 V576.4" fill="none" stroke="#000" stroke-width="2" stroke-linecap="round" opacity="0.83" filter="url(#bl1)"/>
</g>
<g clip-path="url(#cp3)">
<rect x="176.8" y="569.7" width="15.2" height="10.0" fill="#000" opacity="0.12" filter="url(#bl2)"/>
<path d="M177.2 572.2 V579.7 M191.6 572.2 V579.7" stroke="#000" stroke-width="2" opacity="0.13" fill="none" filter="url(#bl1)"/>
<path d="M178.4 579.2 L180.4 580.0 L188.4 580.0 L190.4 579.2" fill="none" stroke="#000" stroke-width="4.8" stroke-linecap="round" stroke-linejoin="round" opacity="0.98" filter="url(#bl1)"/>
<path d="M177.1 579.2 V575.1 M191.7 579.2 V575.1" fill="none" stroke="#000" stroke-width="2" stroke-linecap="round" opacity="0.83" filter="url(#bl1)"/>
</g>
<g clip-path="url(#cp3)">
<rect x="197.4" y="569.7" width="15.2" height="10.0" fill="#000" opacity="0.12" filter="url(#bl2)"/>
<path d="M197.8 572.2 V579.7 M212.2 572.2 V579.7" stroke="#000" stroke-width="2" opacity="0.13" fill="none" filter="url(#bl1)"/>
<path d="M199.0 579.2 L201.0 580.0 L209.0 580.0 L211.0 579.2" fill="none" stroke="#000" stroke-width="4.8" stroke-linecap="round" stroke-linejoin="round" opacity="0.98" filter="url(#bl1)"/>
<path d="M197.7 579.2 V575.1 M212.3 579.2 V575.1" fill="none" stroke="#000" stroke-width="2" stroke-linecap="round" opacity="0.83" filter="url(#bl1)"/>
</g>
<g clip-path="url(#cp3)">
<rect x="218.9" y="580.7" width="13.8" height="14" fill="#000" opacity="0.10" filter="url(#bl2)"/>
<rect x="218.2" y="569.7" width="15.2" height="10.0" fill="#000" opacity="0.12" filter="url(#bl2)"/>
<path d="M218.6 572.2 V579.7 M233.0 572.2 V579.7" stroke="#000" stroke-width="2" opacity="0.13" fill="none" filter="url(#bl1)"/>
<path d="M219.8 579.2 L221.8 580.0 L229.8 580.0 L231.8 579.2" fill="none" stroke="#000" stroke-width="4.8" stroke-linecap="round" stroke-linejoin="round" opacity="0.98" filter="url(#bl1)"/>
<path d="M218.5 579.2 V575.1 M233.1 579.2 V575.1" fill="none" stroke="#000" stroke-width="2" stroke-linecap="round" opacity="0.83" filter="url(#bl1)"/>
</g>
<g clip-path="url(#cp3)">
<rect x="239.5" y="580.7" width="13.8" height="14" fill="#000" opacity="0.08" filter="url(#bl2)"/>
<rect x="238.8" y="569.7" width="15.2" height="10.0" fill="#000" opacity="0.12" filter="url(#bl2)"/>
<path d="M239.2 572.2 V579.7 M253.6 572.2 V579.7" stroke="#000" stroke-width="2" opacity="0.13" fill="none" filter="url(#bl1)"/>
<path d="M240.4 579.2 L242.4 580.0 L250.4 580.0 L252.4 579.2" fill="none" stroke="#000" stroke-width="4.8" stroke-linecap="round" stroke-linejoin="round" opacity="0.98" filter="url(#bl1)"/>
<path d="M239.1 579.2 V575.1 M253.7 579.2 V575.1" fill="none" stroke="#000" stroke-width="2" stroke-linecap="round" opacity="0.83" filter="url(#bl1)"/>
</g>
<line x1="5" y1="519.3" x2="258.7" y2="519.3" stroke="#969696" stroke-width="1"/>
<line x1="134" y1="461.8" x2="134" y2="588" stroke="#9a9a9a" stroke-width="1.3"/>
<line x1="194.7" y1="461.8" x2="194.7" y2="588" stroke="#9a9a9a" stroke-width="1.3"/>
</g>
<g id="panelE">
<rect x="354.2" y="538.05" width="15" height="10.95" fill="#0000ff"/>
<path d="M361.65 536.70 V539.40 M358.15 536.70 H365.15 M358.15 539.40 H365.15" stroke="#222" stroke-width="0.7" fill="none"/>
<rect x="376.8" y="472.50" width="15" height="76.50" fill="#dc0000"/>
<path d="M384.25 464.08 V480.93 M380.75 464.08 H387.75 M380.75 480.93 H387.75" stroke="#222" stroke-width="0.7" fill="none"/>
<rect x="414.3" y="487.67" width="15" height="61.33" fill="#0000ff"/>
<path d="M421.75 485.81 V489.52 M418.25 485.81 H425.25 M418.25 489.52 H425.25" stroke="#222" stroke-width="0.7" fill="none"/>
<rect x="436.8" y="479.24" width="15" height="69.76" fill="#dc0000"/>
<path d="M444.25 469.13 V489.35 M440.75 469.13 H447.75 M440.75 489.35 H447.75" stroke="#222" stroke-width="0.7" fill="none"/>
<rect x="474.3" y="538.89" width="15" height="10.11" fill="#0000ff"/>
<path d="M481.75 538.38 V539.40 M478.25 538.38 H485.25 M478.25 539.40 H485.25" stroke="#222" stroke-width="0.7" fill="none"/>
<rect x="496.8" y="473.18" width="15" height="75.83" fill="#dc0000"/>
<path d="M504.25 461.72 V484.63 M500.75 461.72 H507.75 M500.75 484.63 H507.75" stroke="#222" stroke-width="0.7" fill="none"/>
<path d="M346.8 447.3 V549 H520" fill="none" stroke="#000" stroke-width="1.5"/>
<line x1="372.6" y1="549" x2="372.6" y2="553.6" stroke="#000" stroke-width="1.5"/>
<line x1="432.6" y1="549" x2="432.6" y2="553.6" stroke="#000" stroke-width="1.5"/>
<line x1="492.6" y1="549" x2="492.6" y2="553.6" stroke="#000" stroke-width="1.5"/>
<line x1="342.2" y1="549.00" x2="346.8" y2="549.00" stroke="#000" stroke-width="1.5"/>
<text x="340.2" y="552.70" font-size="8.4" font-weight="bold" text-anchor="end" class="b">0</text>
<line x1="342.2" y1="515.30" x2="346.8" y2="515.30" stroke="#000" stroke-width="1.5"/>
<text class="b" x="312" y="518.70" font-size="8.4" font-weight="bold" word-spacing="0.5">1 × 10<tspan font-size="6" dy="-3.2">7</tspan></text>
<line x1="342.2" y1="481.60" x2="346.8" y2="481.60" stroke="#000" stroke-width="1.5"/>
<text class="b" x="312" y="485.00" font-size="8.4" font-weight="bold" word-spacing="0.5">2 × 10<tspan font-size="6" dy="-3.2">7</tspan></text>
<line x1="342.2" y1="447.90" x2="346.8" y2="447.90" stroke="#000" stroke-width="1.5"/>
<text class="b" x="312" y="451.30" font-size="8.4" font-weight="bold" word-spacing="0.5">3 × 10<tspan font-size="6" dy="-3.2">7</tspan></text>
<text class="b" transform="translate(301.4 533.1) rotate(-90)" font-size="8.4" font-weight="bold">Ave. luminescence</text>
<rect x="272" y="558" width="10.5" height="5.8" fill="#0000ff"/>
<rect x="275.8" y="573.3" width="10.5" height="5.9" fill="#dc0000"/>
<text x="339.6" y="564.8" font-size="8.5" font-weight="normal" text-anchor="end" >DHX9 s4021</text>
<line x1="359.2" y1="562.1999999999999" x2="363.40000000000003" y2="562.1999999999999" stroke="#222" stroke-width="0.85"/>
<line x1="361.3" y1="560.0999999999999" x2="361.3" y2="564.3" stroke="#222" stroke-width="0.85"/>
<line x1="381.8" y1="562.1999999999999" x2="386.8" y2="562.1999999999999" stroke="#222" stroke-width="0.85"/>
<line x1="419.2" y1="562.1999999999999" x2="423.40000000000003" y2="562.1999999999999" stroke="#222" stroke-width="0.85"/>
<line x1="421.3" y1="560.0999999999999" x2="421.3" y2="564.3" stroke="#222" stroke-width="0.85"/>
<line x1="441.8" y1="562.1999999999999" x2="446.8" y2="562.1999999999999" stroke="#222" stroke-width="0.85"/>
<line x1="479.5" y1="562.1999999999999" x2="483.70000000000005" y2="562.1999999999999" stroke="#222" stroke-width="0.85"/>
<line x1="481.6" y1="560.0999999999999" x2="481.6" y2="564.3" stroke="#222" stroke-width="0.85"/>
<line x1="501.8" y1="562.1999999999999" x2="506.8" y2="562.1999999999999" stroke="#222" stroke-width="0.85"/>
<text x="339.6" y="579.8" font-size="8.5" font-weight="normal" text-anchor="end" >DHX9 C911</text>
<line x1="358.8" y1="577.1999999999999" x2="363.8" y2="577.1999999999999" stroke="#222" stroke-width="0.85"/>
<line x1="382.2" y1="577.1999999999999" x2="386.40000000000003" y2="577.1999999999999" stroke="#222" stroke-width="0.85"/>
<line x1="384.3" y1="575.0999999999999" x2="384.3" y2="579.3" stroke="#222" stroke-width="0.85"/>
<line x1="418.8" y1="577.1999999999999" x2="423.8" y2="577.1999999999999" stroke="#222" stroke-width="0.85"/>
<line x1="442.2" y1="577.1999999999999" x2="446.40000000000003" y2="577.1999999999999" stroke="#222" stroke-width="0.85"/>
<line x1="444.3" y1="575.0999999999999" x2="444.3" y2="579.3" stroke="#222" stroke-width="0.85"/>
<line x1="479.1" y1="577.1999999999999" x2="484.1" y2="577.1999999999999" stroke="#222" stroke-width="0.85"/>
<line x1="502.2" y1="577.1999999999999" x2="506.40000000000003" y2="577.1999999999999" stroke="#222" stroke-width="0.85"/>
<line x1="504.3" y1="575.0999999999999" x2="504.3" y2="579.3" stroke="#222" stroke-width="0.85"/>
<text x="339.6" y="594.8" font-size="8.5" font-weight="normal" text-anchor="end" >DHX9 WT</text>
<line x1="358.8" y1="592.1999999999999" x2="363.8" y2="592.1999999999999" stroke="#222" stroke-width="0.85"/>
<line x1="381.8" y1="592.1999999999999" x2="386.8" y2="592.1999999999999" stroke="#222" stroke-width="0.85"/>
<line x1="419.2" y1="592.1999999999999" x2="423.40000000000003" y2="592.1999999999999" stroke="#222" stroke-width="0.85"/>
<line x1="421.3" y1="590.0999999999999" x2="421.3" y2="594.3" stroke="#222" stroke-width="0.85"/>
<line x1="442.2" y1="592.1999999999999" x2="446.40000000000003" y2="592.1999999999999" stroke="#222" stroke-width="0.85"/>
<line x1="444.3" y1="590.0999999999999" x2="444.3" y2="594.3" stroke="#222" stroke-width="0.85"/>
<line x1="479.1" y1="592.1999999999999" x2="484.1" y2="592.1999999999999" stroke="#222" stroke-width="0.85"/>
<line x1="501.8" y1="592.1999999999999" x2="506.8" y2="592.1999999999999" stroke="#222" stroke-width="0.85"/>
<text x="339.6" y="610.4" font-size="8.5" font-weight="normal" text-anchor="end" >DHX9 K417R</text>
<line x1="358.8" y1="607.8" x2="363.8" y2="607.8" stroke="#222" stroke-width="0.85"/>
<line x1="381.8" y1="607.8" x2="386.8" y2="607.8" stroke="#222" stroke-width="0.85"/>
<line x1="418.8" y1="607.8" x2="423.8" y2="607.8" stroke="#222" stroke-width="0.85"/>
<line x1="441.8" y1="607.8" x2="446.8" y2="607.8" stroke="#222" stroke-width="0.85"/>
<line x1="479.5" y1="607.8" x2="483.70000000000005" y2="607.8" stroke="#222" stroke-width="0.85"/>
<line x1="481.6" y1="605.6999999999999" x2="481.6" y2="609.9" stroke="#222" stroke-width="0.85"/>
<line x1="502.2" y1="607.8" x2="506.40000000000003" y2="607.8" stroke="#222" stroke-width="0.85"/>
<line x1="504.3" y1="605.6999999999999" x2="504.3" y2="609.9" stroke="#222" stroke-width="0.85"/>
</g>
</svg>
</body></html>
